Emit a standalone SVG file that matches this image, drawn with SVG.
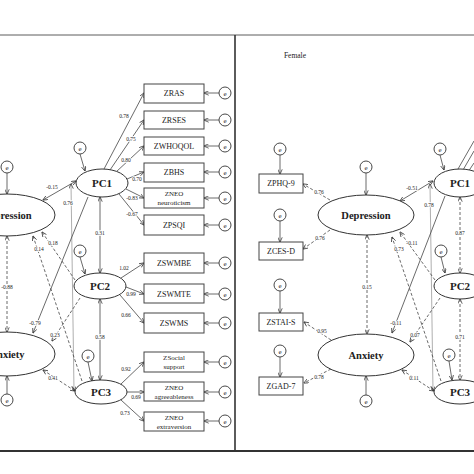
<svg xmlns="http://www.w3.org/2000/svg" width="474" height="474" viewBox="0 0 474 474">
<defs>
<style>
text{font-family:"Liberation Serif","Times New Roman",serif;fill:#222;text-anchor:middle}
.lat{fill:#fff;stroke:#333;stroke-width:1}
.box{fill:#fff;stroke:#444;stroke-width:1}
.err{fill:#fff;stroke:#333;stroke-width:0.9}
.lt{font-size:11px;font-weight:bold}
.bt{font-size:8px}
.bt2{font-size:7px}
.et{font-size:7px}
.nm{font-size:5.5px;paint-order:stroke;stroke:#fff;stroke-width:1.5px}
.c{fill:none;stroke:#444;stroke-width:0.8;marker-end:url(#ah)}
.cb{fill:none;stroke:#444;stroke-width:0.8;marker-end:url(#ah);marker-start:url(#ah)}
.d{stroke-dasharray:3,2}
.g{stroke:#999}
.fr{stroke:#333;fill:none}
</style>
<marker id="ah" viewBox="0 0 8 8" refX="7.5" refY="4" markerWidth="5" markerHeight="5" orient="auto-start-reverse" markerUnits="userSpaceOnUse">
<path d="M0,0.5 L8,4 L0,7.5" fill="none" stroke="#333" stroke-width="1.2"/>
</marker>
</defs>
<rect width="474" height="474" fill="#fff"/>
<g id="frame">
<line class="fr" x1="0" y1="35" x2="474" y2="35" stroke-width="0.8"/>
<line class="fr" x1="235" y1="35" x2="235" y2="451" stroke-width="1.6"/>
<line class="fr" x1="0" y1="451" x2="474" y2="451" stroke-width="2"/>
<text x="295" y="58" style="font-size:7.5px">Female</text>
</g>
<g id="connectors">
<line class="c" x1="104" y1="169" x2="144" y2="93"/>
<line class="c" x1="110" y1="170" x2="144" y2="120"/>
<line class="c" x1="116" y1="172" x2="144" y2="146"/>
<line class="c" x1="127" y1="179" x2="144" y2="172"/>
<line class="c" x1="126" y1="189" x2="144" y2="198"/>
<line class="c" x1="119" y1="194" x2="144" y2="225"/>
<line class="c" x1="121" y1="278" x2="144" y2="263"/>
<line class="c" x1="126" y1="287" x2="144" y2="294"/>
<line class="c" x1="120" y1="295" x2="144" y2="323"/>
<line class="c" x1="121" y1="384" x2="144" y2="362"/>
<line class="c" x1="127" y1="392" x2="144" y2="392"/>
<line class="c" x1="121" y1="400" x2="144" y2="421"/>
<line class="c" x1="219" y1="93" x2="204" y2="93"/>
<line class="c" x1="219" y1="120" x2="204" y2="120"/>
<line class="c" x1="219" y1="146" x2="204" y2="146"/>
<line class="c" x1="219" y1="172" x2="204" y2="172"/>
<line class="c" x1="219" y1="198" x2="204" y2="198"/>
<line class="c" x1="219" y1="225" x2="204" y2="225"/>
<line class="c" x1="219" y1="263" x2="204" y2="263"/>
<line class="c" x1="219" y1="294" x2="204" y2="294"/>
<line class="c" x1="219" y1="323" x2="204" y2="323"/>
<line class="c" x1="219" y1="362" x2="204" y2="362"/>
<line class="c" x1="219" y1="392" x2="204" y2="392"/>
<line class="c" x1="219" y1="421" x2="204" y2="421"/>
<line class="c" x1="80" y1="154" x2="85" y2="171"/>
<line class="c" x1="80" y1="257" x2="85" y2="274"/>
<line class="c" x1="88" y1="362" x2="92" y2="381"/>
<line class="c" x1="7" y1="173" x2="7" y2="194"/>
<line class="c" x1="7" y1="394" x2="7" y2="376"/>
<line class="cb" x1="100" y1="197" x2="100" y2="273"/>
<line class="cb" x1="100" y1="299" x2="100" y2="380"/>
<line class="cb d" x1="7" y1="236" x2="7" y2="332"/>
<line class="cb" x1="76" y1="181" x2="43" y2="200"/>
<line class="cb g" x1="71" y1="184" x2="74" y2="391"/>
<line class="c" x1="88" y1="197" x2="33" y2="333"/>
<line class="c d" x1="75" y1="280" x2="42" y2="232"/>
<line class="c d" x1="82" y1="381" x2="33" y2="236"/>
<line class="c d" x1="80" y1="298" x2="52" y2="341"/>
<line class="cb d" x1="43" y1="370" x2="75" y2="391"/>
<line class="c d" x1="330" y1="200" x2="303" y2="184"/>
<line class="c d" x1="330" y1="230" x2="303" y2="249"/>
<line class="c d" x1="331" y1="340" x2="304" y2="322"/>
<line class="c d" x1="331" y1="369" x2="304" y2="383"/>
<line class="c" x1="280" y1="155" x2="280" y2="174"/>
<line class="c" x1="280" y1="221" x2="280" y2="242"/>
<line class="c" x1="280" y1="291" x2="280" y2="313"/>
<line class="c" x1="280" y1="357" x2="280" y2="377"/>
<line class="c" x1="366" y1="173" x2="366" y2="195"/>
<line class="c" x1="366" y1="395" x2="366" y2="376"/>
<line class="c" x1="440" y1="155" x2="444" y2="170"/>
<line class="c" x1="441" y1="257" x2="445" y2="273"/>
<line class="c" x1="449" y1="361" x2="452" y2="380"/>
<line class="cb" x1="433" y1="181" x2="400" y2="201"/>
<line class="cb g" x1="430" y1="184" x2="433" y2="391"/>
<line class="cb d" x1="460" y1="197" x2="460" y2="273"/>
<line class="cb d" x1="460" y1="299" x2="460" y2="380"/>
<line class="cb d" x1="367" y1="235" x2="367" y2="334"/>
<line class="c" x1="445" y1="196" x2="392" y2="333"/>
<line class="c d" x1="435" y1="280" x2="400" y2="232"/>
<line class="c d" x1="441" y1="381" x2="392" y2="237"/>
<line class="c d" x1="440" y1="298" x2="410" y2="342"/>
<line class="cb d" x1="402" y1="370" x2="434" y2="391"/>
<line x1="458" y1="169" x2="474" y2="141" stroke="#444" stroke-width="0.8"/>
<line x1="463" y1="170" x2="474" y2="151" stroke="#444" stroke-width="0.8"/>
<line x1="468" y1="172" x2="474" y2="163" stroke="#444" stroke-width="0.8"/>
</g>
<g id="labels">
<text class="nm" x="124" y="118">0.78</text>
<text class="nm" x="131" y="141">0.75</text>
<text class="nm" x="126" y="162">0.80</text>
<text class="nm" x="137" y="181">0.70</text>
<text class="nm" x="132" y="200">-0.83</text>
<text class="nm" x="132" y="216">-0.67</text>
<text class="nm" x="124" y="270">1.02</text>
<text class="nm" x="131" y="296">0.99</text>
<text class="nm" x="126" y="317">0.66</text>
<text class="nm" x="126" y="371">0.92</text>
<text class="nm" x="136" y="399">0.69</text>
<text class="nm" x="125" y="415">0.73</text>
<text class="nm" x="52" y="189">-0.15</text>
<text class="nm" x="68" y="205">0.76</text>
<text class="nm" x="100" y="235">0.31</text>
<text class="nm" x="100" y="339">0.58</text>
<text class="nm" x="7" y="289">-0.88</text>
<text class="nm" x="53" y="245">0.18</text>
<text class="nm" x="39" y="251">0.14</text>
<text class="nm" x="35" y="325">-0.79</text>
<text class="nm" x="55" y="337">0.23</text>
<text class="nm" x="53" y="380">0.41</text>
<text class="nm" x="319" y="194">0.76</text>
<text class="nm" x="320" y="240">0.76</text>
<text class="nm" x="322" y="333">0.95</text>
<text class="nm" x="319" y="379">0.78</text>
<text class="nm" x="412" y="190">-0.51</text>
<text class="nm" x="429" y="207">0.78</text>
<text class="nm" x="460" y="235">0.87</text>
<text class="nm" x="460" y="339">0.71</text>
<text class="nm" x="367" y="289">0.15</text>
<text class="nm" x="396" y="325">-0.11</text>
<text class="nm" x="412" y="245">-0.11</text>
<text class="nm" x="399" y="251">0.73</text>
<text class="nm" x="415" y="337">0.07</text>
<text class="nm" x="414" y="380">0.11</text>
</g>
<g id="L_Depression"><ellipse class="lat" cx="7" cy="215" rx="48" ry="21"/><text class="lt" x="7" y="219" style="font-size:10.5px">Depression</text></g>
<g id="L_Anxiety"><ellipse class="lat" cx="7" cy="354" rx="48" ry="22"/><text class="lt" x="7" y="358" style="font-size:10.5px">Anxiety</text></g>
<g id="L_PC1"><ellipse class="lat" cx="102" cy="183" rx="26" ry="14"/><text class="lt" x="102" y="187">PC1</text></g>
<g id="L_PC2"><ellipse class="lat" cx="100" cy="286" rx="26" ry="13"/><text class="lt" x="100" y="290">PC2</text></g>
<g id="L_PC3"><ellipse class="lat" cx="101" cy="392" rx="26" ry="12"/><text class="lt" x="101" y="396">PC3</text></g>
<g id="L_ZRAS"><rect class="box" x="144" y="84" width="60" height="19"/><text class="bt" x="174" y="96">ZRAS</text></g>
<g id="L_ZRSES"><rect class="box" x="144" y="111" width="60" height="18"/><text class="bt" x="174" y="123">ZRSES</text></g>
<g id="L_ZWHOQOL"><rect class="box" x="144" y="137" width="60" height="18"/><text class="bt" x="174" y="149">ZWHOQOL</text></g>
<g id="L_ZBHS"><rect class="box" x="144" y="163" width="60" height="19"/><text class="bt" x="174" y="175">ZBHS</text></g>
<g id="L_ZNEO_n"><rect class="box" x="144" y="188" width="60" height="20"/><text class="bt2" x="174" y="196">ZNEO</text><text class="bt2" x="174" y="205">neuroticism</text></g>
<g id="L_ZPSQI"><rect class="box" x="144" y="215" width="60" height="20"/><text class="bt" x="174" y="228">ZPSQI</text></g>
<g id="L_ZSWMBE"><rect class="box" x="144" y="253" width="60" height="20"/><text class="bt" x="174" y="266">ZSWMBE</text></g>
<g id="L_ZSWMTE"><rect class="box" x="144" y="284" width="60" height="19"/><text class="bt" x="174" y="297">ZSWMTE</text></g>
<g id="L_ZSWMS"><rect class="box" x="144" y="313" width="60" height="20"/><text class="bt" x="174" y="326">ZSWMS</text></g>
<g id="L_ZSocial"><rect class="box" x="144" y="352" width="60" height="20"/><text class="bt2" x="174" y="360">ZSocial</text><text class="bt2" x="174" y="369">support</text></g>
<g id="L_ZNEO_a"><rect class="box" x="144" y="382" width="60" height="19"/><text class="bt2" x="174" y="390">ZNEO</text><text class="bt2" x="174" y="399">agreeableness</text></g>
<g id="L_ZNEO_e"><rect class="box" x="144" y="412" width="60" height="19"/><text class="bt2" x="174" y="420">ZNEO</text><text class="bt2" x="174" y="429">extraversion</text></g>
<g id="L_e1"><circle class="err" cx="225" cy="93" r="6"/><text class="et" x="225" y="95.5">e</text></g>
<g id="L_e2"><circle class="err" cx="225" cy="120" r="6"/><text class="et" x="225" y="122.5">e</text></g>
<g id="L_e3"><circle class="err" cx="225" cy="146" r="6"/><text class="et" x="225" y="148.5">e</text></g>
<g id="L_e4"><circle class="err" cx="225" cy="172" r="6"/><text class="et" x="225" y="174.5">e</text></g>
<g id="L_e5"><circle class="err" cx="225" cy="198" r="6"/><text class="et" x="225" y="200.5">e</text></g>
<g id="L_e6"><circle class="err" cx="225" cy="225" r="6"/><text class="et" x="225" y="227.5">e</text></g>
<g id="L_e7"><circle class="err" cx="225" cy="263" r="6"/><text class="et" x="225" y="265.5">e</text></g>
<g id="L_e8"><circle class="err" cx="225" cy="294" r="6"/><text class="et" x="225" y="296.5">e</text></g>
<g id="L_e9"><circle class="err" cx="225" cy="323" r="6"/><text class="et" x="225" y="325.5">e</text></g>
<g id="L_e10"><circle class="err" cx="225" cy="362" r="6"/><text class="et" x="225" y="364.5">e</text></g>
<g id="L_e11"><circle class="err" cx="225" cy="392" r="6"/><text class="et" x="225" y="394.5">e</text></g>
<g id="L_e12"><circle class="err" cx="225" cy="421" r="6"/><text class="et" x="225" y="423.5">e</text></g>
<g id="L_ePC1"><circle class="err" cx="80" cy="148" r="6"/><text class="et" x="80" y="150.5">e</text></g>
<g id="L_ePC2"><circle class="err" cx="80" cy="251" r="6"/><text class="et" x="80" y="253.5">e</text></g>
<g id="L_ePC3"><circle class="err" cx="88" cy="356" r="6"/><text class="et" x="88" y="358.5">e</text></g>
<g id="L_eDep"><circle class="err" cx="7" cy="167" r="6"/><text class="et" x="7" y="169.5">e</text></g>
<g id="L_eAnx"><circle class="err" cx="7" cy="400" r="6"/><text class="et" x="7" y="402.5">e</text></g>
<g id="R_Depression"><ellipse class="lat" cx="366" cy="215" rx="48" ry="20"/><text class="lt" x="366" y="219" style="font-size:10.5px">Depression</text></g>
<g id="R_Anxiety"><ellipse class="lat" cx="366" cy="355" rx="48" ry="21"/><text class="lt" x="366" y="359" style="font-size:10.5px">Anxiety</text></g>
<g id="R_PC1"><ellipse class="lat" cx="460" cy="183" rx="26" ry="14"/><text class="lt" x="460" y="187">PC1</text></g>
<g id="R_PC2"><ellipse class="lat" cx="460" cy="286" rx="26" ry="13"/><text class="lt" x="460" y="290">PC2</text></g>
<g id="R_PC3"><ellipse class="lat" cx="460" cy="392" rx="26" ry="12"/><text class="lt" x="460" y="396">PC3</text></g>
<g id="R_ZPHQ9"><rect class="box" x="259" y="174" width="44" height="19"/><text class="bt" x="281" y="186">ZPHQ-9</text></g>
<g id="R_ZCESD"><rect class="box" x="259" y="242" width="44" height="18"/><text class="bt" x="281" y="254">ZCES-D</text></g>
<g id="R_ZSTAIS"><rect class="box" x="259" y="313" width="44" height="18"/><text class="bt" x="281" y="325">ZSTAI-S</text></g>
<g id="R_ZGAD7"><rect class="box" x="259" y="377" width="44" height="18"/><text class="bt" x="281" y="389">ZGAD-7</text></g>
<g id="R_e1"><circle class="err" cx="280" cy="149" r="6"/><text class="et" x="280" y="151.5">e</text></g>
<g id="R_e2"><circle class="err" cx="280" cy="215" r="6"/><text class="et" x="280" y="217.5">e</text></g>
<g id="R_e3"><circle class="err" cx="280" cy="285" r="6"/><text class="et" x="280" y="287.5">e</text></g>
<g id="R_e4"><circle class="err" cx="280" cy="351" r="6"/><text class="et" x="280" y="353.5">e</text></g>
<g id="R_eDep"><circle class="err" cx="366" cy="167" r="6"/><text class="et" x="366" y="169.5">e</text></g>
<g id="R_eAnx"><circle class="err" cx="366" cy="401" r="6"/><text class="et" x="366" y="403.5">e</text></g>
<g id="R_ePC1"><circle class="err" cx="440" cy="149" r="6"/><text class="et" x="440" y="151.5">e</text></g>
<g id="R_ePC2"><circle class="err" cx="441" cy="251" r="6"/><text class="et" x="441" y="253.5">e</text></g>
<g id="R_ePC3"><circle class="err" cx="449" cy="355" r="6"/><text class="et" x="449" y="357.5">e</text></g>
</svg>
